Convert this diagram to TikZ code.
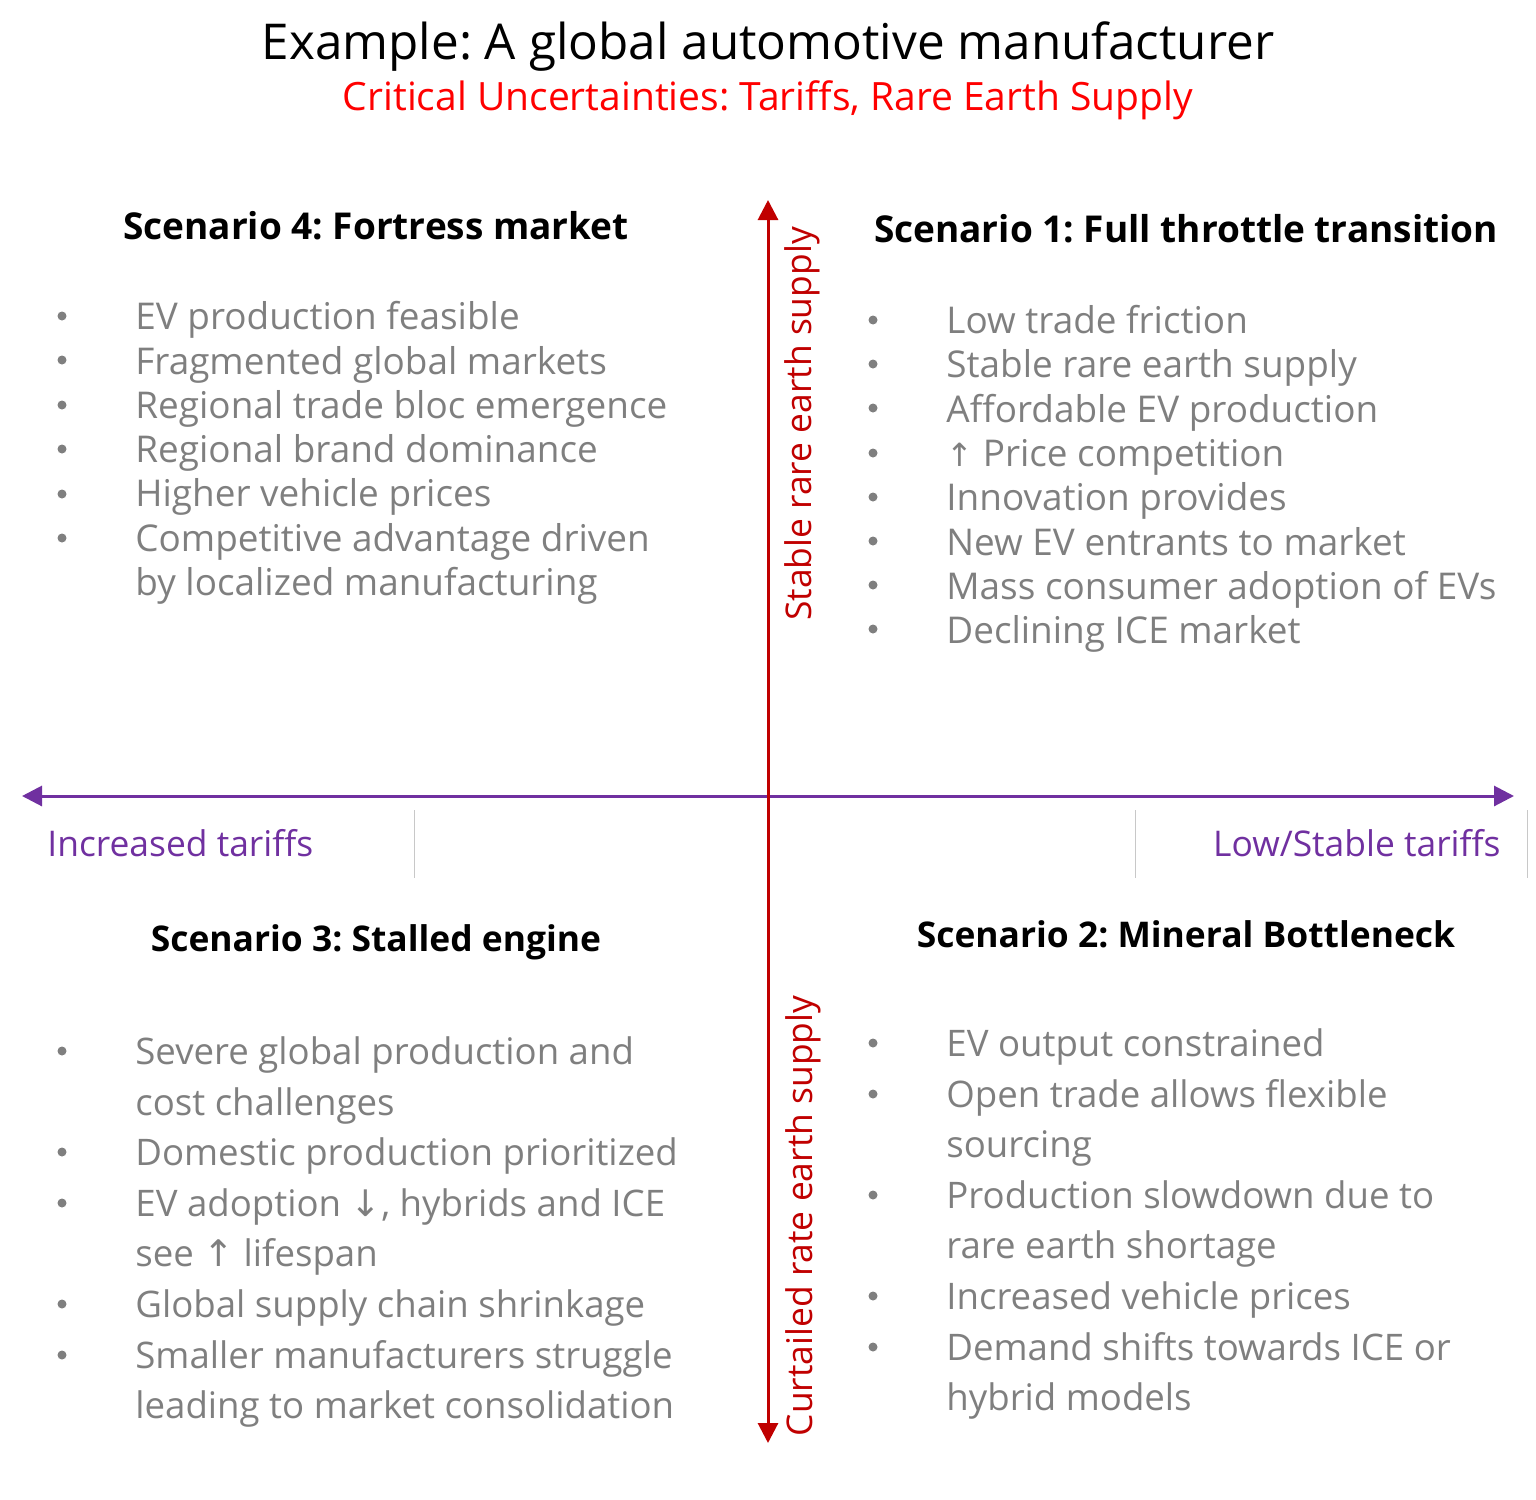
\documentclass[tikz,border=0pt]{standalone}
\usepackage{fontspec}
\setmainfont{Open Sans}
\newfontfamily\pfeil{DejaVu Sans}
\usepackage{xcolor}
\definecolor{achselila}{HTML}{7030A0}
\definecolor{achserot}{HTML}{C00000}
\definecolor{titelrot}{HTML}{FF0000}
\definecolor{textgrau}{HTML}{7F7F7F}
\definecolor{randgrau}{HTML}{C8C8C8}
\usetikzlibrary{arrows.meta,positioning}
\frenchspacing

\begin{document}
\begin{tikzpicture}[
  x=0.5pt, y=-0.5pt,
  titel/.style={font=\fontsize{24.7}{28}\selectfont, inner sep=0pt},
  untertitel/.style={font=\fontsize{19.5}{24}\selectfont, text=titelrot, inner sep=0pt},
  kopf/.style={font=\fontsize{18.5}{22}\selectfont\bfseries, inner sep=0pt},
  kopfklein/.style={kopf, font=\fontsize{17.7}{22}\selectfont\bfseries},
  liste/.style={font=\fontsize{18.45}{22.15}\selectfont, text=textgrau, align=left, inner sep=0pt, anchor=west},
  listeweit/.style={liste, font=\fontsize{18.3}{25.3}\selectfont},
  punkt/.style={circle, fill=textgrau, inner sep=0pt, minimum size=4.5pt},
  achstext/.style={font=\fontsize{17.7}{22}\selectfont, inner sep=0pt},
  achse/.style={line width=1.5pt, {Triangle[length=10pt,width=10pt]}-{Triangle[length=10pt,width=10pt]}},
  rand/.style={draw=randgrau, line width=0.5pt}
]
\useasboundingbox (0,0) rectangle (1536,1499);

% title
\node[titel] (titel) at (768,47) {Example: A global automotive manufacturer};
\node[untertitel] (untertitel) at (768,100) {Critical Uncertainties: Tariffs, Rare Earth Supply};

% axes
\coordinate (links) at (22,796);
\coordinate (rechts) at (1514,796);
\coordinate (oben) at (768,200);
\coordinate (unten) at (768,1443);
\draw[achse, achselila] (links) -- (rechts);
\draw[achse, achserot] (unten) -- (oben);

\node[achstext, text=achselila, anchor=west] (hoch) at (47,843) {Increased tariffs};
\node[achstext, text=achselila, anchor=east] (niedrig) at (1501,843) {Low/Stable tariffs};
\node[achstext, text=achserot, rotate=90] (stabil) at (802,424) {Stable rare earth supply};
\node[achstext, text=achserot, rotate=90] (knapp) at (803,1216) {Curtailed rate earth supply};

% text box edges
\draw[rand] (414,810) -- (414,878);
\draw[rand] (1135,810) -- (1135,878);
\draw[rand] (1527,810) -- (1527,878);

% scenario 4
\node[kopf] (s4) at (376,226) {Scenario 4: Fortress market};
\node[liste] (s4liste) at (135,453) {EV production feasible\\Fragmented global markets\\Regional trade bloc emergence\\Regional brand dominance\\Higher vehicle prices\\Competitive advantage driven\\by localized manufacturing};
\foreach \y in {316,360,405,449,494,538} \node[punkt] at (62,\y) {};

% scenario 1
\node[kopf] (s1) at (1186,229) {Scenario 1: Full throttle transition};
\node[liste] (s1liste) at (946,479) {Low trade friction\\Stable rare earth supply\\Affordable EV production\\{\pfeil\fontsize{16}{22.15}\selectfont ↑} Price competition\\Innovation provides\\New EV entrants to market\\Mass consumer adoption of EVs\\Declining ICE market};
\foreach \y in {320,364,408,453,497,541,585,629} \node[punkt] at (873,\y) {};

% scenario 3
\node[kopfklein] (s3) at (376,942) {Scenario 3: Stalled engine};
\node[listeweit] (s3liste) at (135,1232) {Severe global production and\\cost challenges\\Domestic production prioritized\\EV adoption {\pfeil↓}, hybrids and ICE\\see {\pfeil↑} lifespan\\Global supply chain shrinkage\\Smaller manufacturers struggle\\leading to market consolidation};
\foreach \y in {1051,1152,1203,1304,1355} \node[punkt] at (62,\y) {};

% scenario 2
\node[kopfklein] (s2) at (1186,934) {Scenario 2: Mineral Bottleneck};
\node[listeweit] (s2liste) at (946,1224) {EV output constrained\\Open trade allows flexible\\sourcing\\Production slowdown due to\\rare earth shortage\\Increased vehicle prices\\Demand shifts towards ICE or\\hybrid models};
\foreach \y in {1043,1094,1195,1296,1347} \node[punkt] at (873,\y) {};
\end{tikzpicture}
\end{document}
